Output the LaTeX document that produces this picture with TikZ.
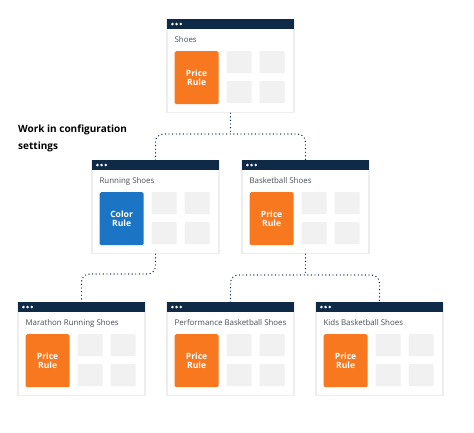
\documentclass[tikz,border=0pt]{standalone}
\usepackage{fontspec}
\setmainfont{Open Sans}
\usetikzlibrary{positioning}

\definecolor{navy}{HTML}{0E2A47}
\definecolor{ruleorange}{HTML}{F8781F}
\definecolor{ruleblue}{HTML}{1B75C4}
\definecolor{tilegray}{HTML}{F1F1F1}
\definecolor{titlegray}{HTML}{4A4F57}

\tikzset{
  winbox/.style={anchor=north, minimum width=127pt, minimum height=93pt,
    fill=white, draw=black!7, line width=1.2pt, inner sep=0pt},
  winbar/.style={anchor=north, minimum width=127pt, minimum height=10pt,
    fill=navy, inner sep=0pt},
  wintitle/.style={anchor=west, inner sep=0pt, text=titlegray,
    font=\fontsize{7.9}{10}\selectfont},
  rulebox/.style={anchor=north west, minimum width=44pt, minimum height=53pt,
    rounded corners=1.5pt, text=white, align=center, inner sep=0pt,
    font=\bfseries\fontsize{8.6}{9.4}\selectfont},
  pricerule/.style={rulebox, fill=ruleorange},
  colorrule/.style={rulebox, fill=ruleblue},
  tile/.style={anchor=north west, minimum width=25pt, minimum height=22pt,
    fill=tilegray, inner sep=0pt, rounded corners=0.8pt},
  link/.style={navy, line width=1.4pt, line cap=round,
    dash pattern=on 0pt off 3.6pt, rounded corners=8pt}
}

% one browser-like window: name, centre x, top y, title, rule style, rule text
\newcommand{\shopwin}[6]{%
  \node[winbox] (#1) at (#2,#3) {};
  \node[winbar] (#1-bar) at (#1.north) {};
  \foreach \d in {0,1,2}
    \fill[white] ([xshift=6pt+4.2pt*\d, yshift=-5pt]#1.north west) circle (1.4pt);
  \node[wintitle] (#1-title) at ([xshift=8pt, yshift=-21pt]#1.north west) {#4};
  \node[#5] (#1-rule) at ([xshift=8pt, yshift=-32pt]#1.north west) {#6};
  \node[tile] (#1-t1) at ([xshift=60pt, yshift=-32pt]#1.north west) {};
  \node[tile] (#1-t2) at ([xshift=93pt, yshift=-32pt]#1.north west) {};
  \node[tile] (#1-t3) at ([xshift=60pt, yshift=-62pt]#1.north west) {};
  \node[tile] (#1-t4) at ([xshift=93pt, yshift=-62pt]#1.north west) {};
}

\begin{document}
\begin{tikzpicture}[x=1pt, y=-1pt]
  \useasboundingbox (0,0) rectangle (474,432);

  % windows
  \shopwin{shoes}{230.5}{19}{Shoes}{pricerule}{Price\\Rule}
  \shopwin{running}{155.5}{160}{Running Shoes}{colorrule}{Color\\Rule}
  \shopwin{basket}{305.5}{160}{Basketball Shoes}{pricerule}{Price\\Rule}
  \shopwin{marathon}{81.5}{302}{Marathon Running Shoes}{pricerule}{Price\\Rule}
  \shopwin{perf}{230.5}{302}{Performance Basketball Shoes}{pricerule}{Price\\Rule}
  \shopwin{kids}{379.5}{302}{Kids Basketball Shoes}{pricerule}{Price\\Rule}

  % annotation
  \node[anchor=west, align=left, inner sep=0pt,
        font=\bfseries\fontsize{10}{17}\selectfont] (note) at (18,138.5)
    {Work in configuration\\settings};

  % dotted connectors
  \coordinate (j1) at (230.5,134);
  \coordinate (j2) at (155.5,274);
  \coordinate (j3) at (305.5,275);
  \draw[link] (shoes.south) -- (j1);
  \draw[link] (running.north) |- (j1) -| (basket.north);
  \draw[link] (running.south) -- (j2) -| (marathon.north);
  \draw[link] (basket.south) -- (j3);
  \draw[link] (perf.north) |- (j3) -| (kids.north);
\end{tikzpicture}
\end{document}
